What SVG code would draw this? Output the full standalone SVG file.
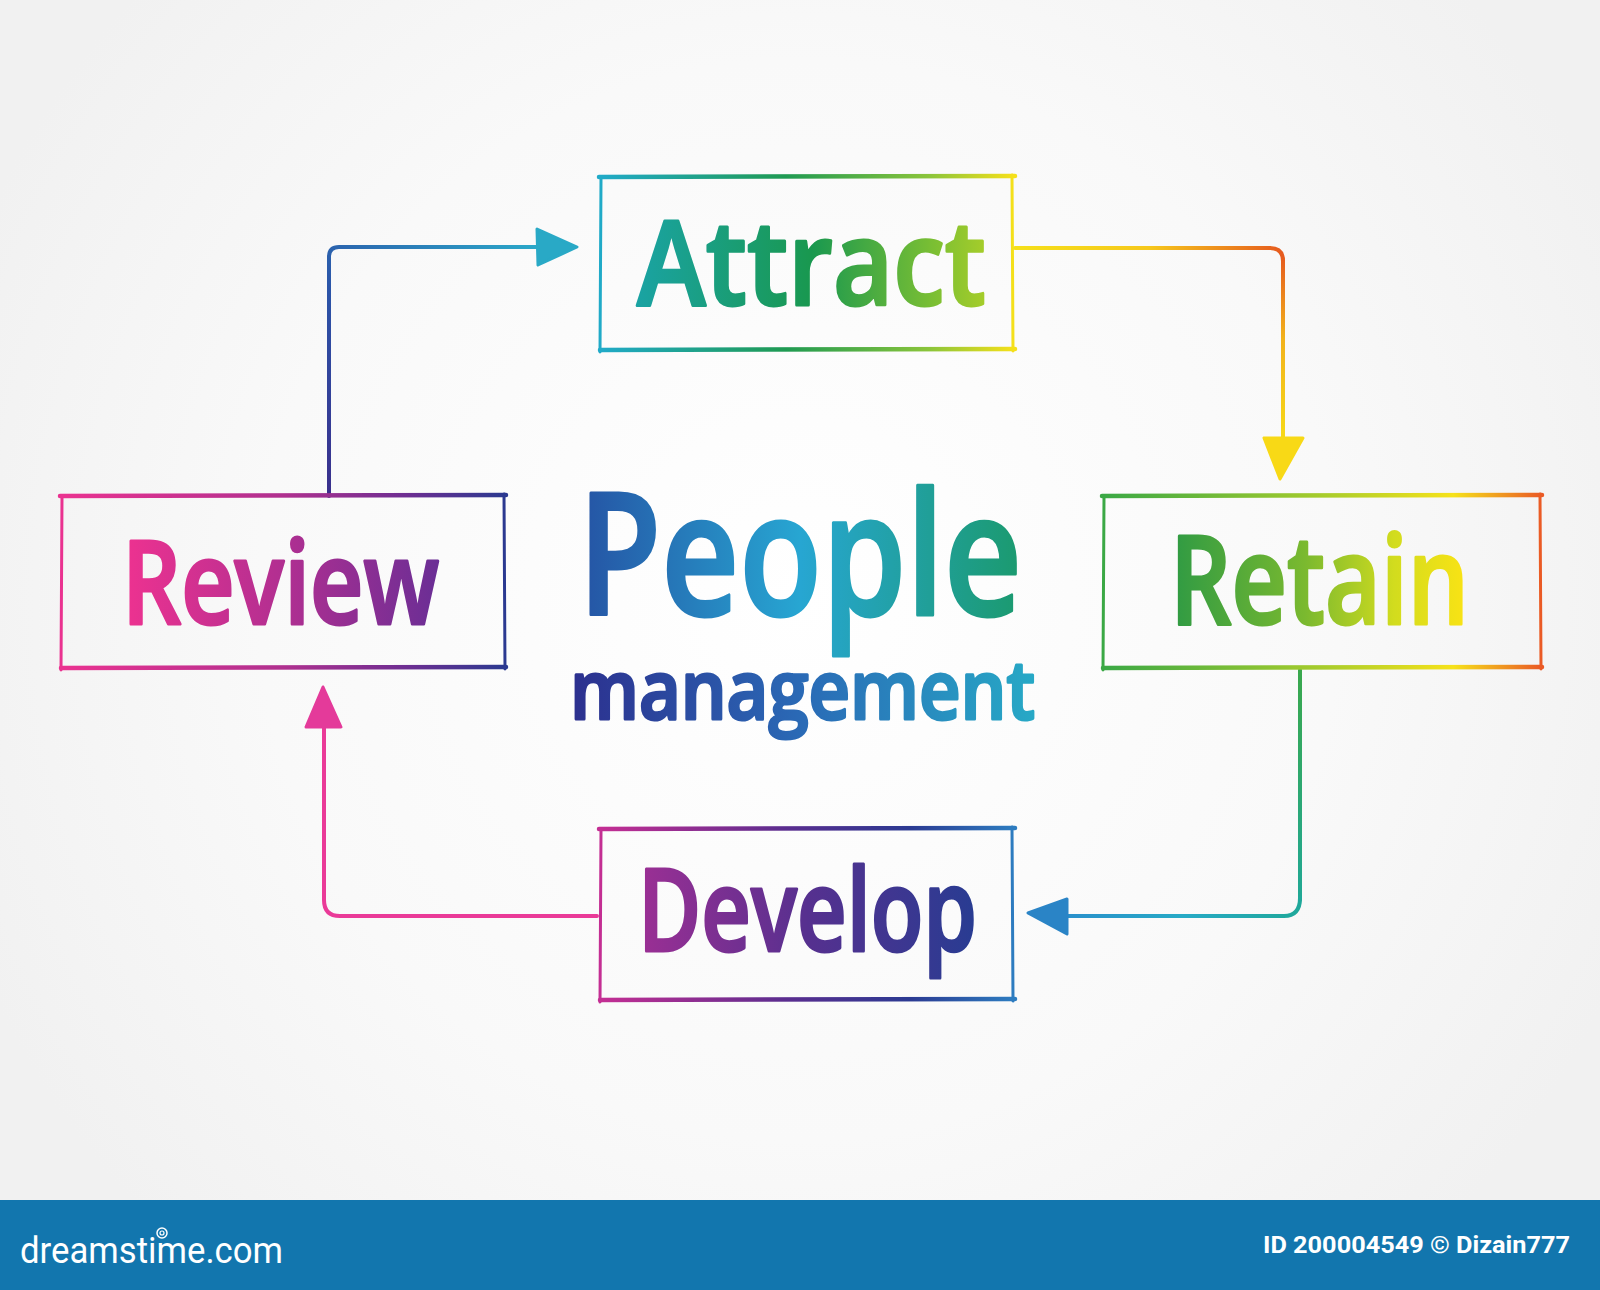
<svg xmlns="http://www.w3.org/2000/svg" width="1600" height="1290" viewBox="0 0 1600 1290">
<style>
  .edge{fill:none;stroke-linecap:round}
  .h{stroke-width:4.5}
  .v{stroke-width:3}
  .conn{fill:none;stroke-width:4;stroke-linecap:round;stroke-linejoin:round}
  .lbl{font-family:"Open Sans","Noto Sans","DejaVu Sans",sans-serif;font-weight:600;stroke-width:3;stroke-linejoin:round;paint-order:stroke}
  .arrow{stroke-width:3;stroke-linejoin:round}
  .foot{font-family:"Roboto","Liberation Sans",sans-serif;fill:#ffffff}
</style>
<defs>
  <radialGradient id="bg" cx="800" cy="600" r="900" gradientUnits="userSpaceOnUse">
    <stop offset="0" stop-color="#ffffff"/>
    <stop offset="0.6" stop-color="#f9f9f9"/>
    <stop offset="1" stop-color="#f1f1f1"/>
  </radialGradient>
  <linearGradient id="gAttractBox" x1="600" y1="0" x2="1013" y2="0" gradientUnits="userSpaceOnUse">
    <stop offset="0" stop-color="#20aac8"/><stop offset="0.45" stop-color="#1f9a52"/><stop offset="0.8" stop-color="#8cc53a"/><stop offset="1" stop-color="#f5e01a"/>
  </linearGradient>
  <linearGradient id="gReviewBox" x1="61" y1="0" x2="505" y2="0" gradientUnits="userSpaceOnUse">
    <stop offset="0" stop-color="#ea3290"/><stop offset="0.5" stop-color="#b0308f"/><stop offset="0.78" stop-color="#6d2e92"/><stop offset="1" stop-color="#2b3990"/>
  </linearGradient>
  <linearGradient id="gRetainBox" x1="1103" y1="0" x2="1541" y2="0" gradientUnits="userSpaceOnUse">
    <stop offset="0" stop-color="#3aa845"/><stop offset="0.5" stop-color="#a7cc2c"/><stop offset="0.8" stop-color="#f6e21a"/><stop offset="1" stop-color="#ea5a25"/>
  </linearGradient>
  <linearGradient id="gDevelopBox" x1="600" y1="0" x2="1013" y2="0" gradientUnits="userSpaceOnUse">
    <stop offset="0" stop-color="#c42e93"/><stop offset="0.45" stop-color="#5a2d8f"/><stop offset="0.75" stop-color="#2b3a92"/><stop offset="1" stop-color="#2d7cc0"/>
  </linearGradient>
  <linearGradient id="tAttract" x1="637" y1="0" x2="986" y2="0" gradientUnits="userSpaceOnUse">
    <stop offset="0" stop-color="#1aa3a3"/><stop offset="0.5" stop-color="#19984f"/><stop offset="0.85" stop-color="#7bbf33"/><stop offset="1" stop-color="#a6cd2a"/>
  </linearGradient>
  <linearGradient id="tReview" x1="122" y1="0" x2="439" y2="0" gradientUnits="userSpaceOnUse">
    <stop offset="0" stop-color="#ee3290"/><stop offset="0.5" stop-color="#b22f91"/><stop offset="1" stop-color="#6a2e95"/>
  </linearGradient>
  <linearGradient id="tRetain" x1="1170" y1="0" x2="1469" y2="0" gradientUnits="userSpaceOnUse">
    <stop offset="0" stop-color="#2e9a44"/><stop offset="0.45" stop-color="#7ab92f"/><stop offset="0.75" stop-color="#d2dc1e"/><stop offset="1" stop-color="#fbe314"/>
  </linearGradient>
  <linearGradient id="tDevelop" x1="638" y1="0" x2="977" y2="0" gradientUnits="userSpaceOnUse">
    <stop offset="0" stop-color="#9c2f94"/><stop offset="0.5" stop-color="#56308f"/><stop offset="1" stop-color="#283c92"/>
  </linearGradient>
  <linearGradient id="tPeople" x1="578" y1="0" x2="1022" y2="0" gradientUnits="userSpaceOnUse">
    <stop offset="0" stop-color="#2553a4"/><stop offset="0.5" stop-color="#27a6d2"/><stop offset="1" stop-color="#1b9a6e"/>
  </linearGradient>
  <linearGradient id="tMgmt" x1="570" y1="0" x2="1035" y2="0" gradientUnits="userSpaceOnUse">
    <stop offset="0" stop-color="#2c2f8e"/><stop offset="0.5" stop-color="#2a6ab6"/><stop offset="1" stop-color="#27a9c6"/>
  </linearGradient>
  <linearGradient id="c1" x1="329" y1="496" x2="560" y2="247" gradientUnits="userSpaceOnUse">
    <stop offset="0" stop-color="#3a2f8c"/><stop offset="0.45" stop-color="#2b54a8"/><stop offset="1" stop-color="#2bb0cc"/>
  </linearGradient>
  <linearGradient id="c2h" x1="1015" y1="0" x2="1283" y2="0" gradientUnits="userSpaceOnUse">
    <stop offset="0" stop-color="#f5e01a"/><stop offset="0.5" stop-color="#f6c81c"/><stop offset="1" stop-color="#e65a1e"/>
  </linearGradient>
  <linearGradient id="c2v" x1="0" y1="255" x2="0" y2="440" gradientUnits="userSpaceOnUse">
    <stop offset="0" stop-color="#e65a1e"/><stop offset="0.45" stop-color="#f2b21c"/><stop offset="1" stop-color="#f7da18"/>
  </linearGradient>
  <linearGradient id="c3v" x1="0" y1="670" x2="0" y2="916" gradientUnits="userSpaceOnUse">
    <stop offset="0" stop-color="#3aa84c"/><stop offset="1" stop-color="#1fa89a"/>
  </linearGradient>
  <linearGradient id="c3h" x1="1300" y1="0" x2="1066" y2="0" gradientUnits="userSpaceOnUse">
    <stop offset="0" stop-color="#1fa89a"/><stop offset="0.5" stop-color="#27aac6"/><stop offset="1" stop-color="#2a90cc"/>
  </linearGradient>
</defs>

<rect x="0" y="0" width="1600" height="1290" fill="url(#bg)"/>

<g id="connectors">
  <path class="conn" stroke="url(#c1)" d="M329,496 V257 Q329,247 339,247 H540"/>
  <polygon class="arrow" fill="#29a9c6" stroke="#29a9c6" points="537,229 577,247 538,265"/>
  <path class="conn" stroke="url(#c2h)" d="M1015,248 H1270 Q1283,248 1283,261"/>
  <path class="conn" stroke="url(#c2v)" d="M1283,259 V440"/>
  <polygon class="arrow" fill="#f8d916" stroke="#f8d916" points="1264,438 1303,438 1280,479"/>
  <path class="conn" stroke="url(#c3v)" d="M1300,670 V900"/>
  <path class="conn" stroke="url(#c3h)" d="M1300,898 Q1300,916 1284,916 H1066"/>
  <polygon class="arrow" fill="#2a84c6" stroke="#2a84c6" points="1067,899 1028,913 1067,934"/>
  <path class="conn" stroke="#ea3a98" d="M597,916 H340 Q324,916 324,900 V727"/>
  <polygon class="arrow" fill="#e43a9a" stroke="#e43a9a" points="306,727 323,687 341,727"/>
</g>

<g id="node-attract">
  <g class="edge" stroke="url(#gAttractBox)">
    <path class="v" d="M601,178 L600,352"/>
    <path class="h" d="M599,177 L1015,176"/>
    <path class="v" d="M1012,175 L1013,351"/>
    <path class="h" d="M600,350 L1015,349"/>
  </g>
  <text class="lbl" x="637" y="305" font-size="118" textLength="349" lengthAdjust="spacingAndGlyphs" fill="url(#tAttract)" stroke="url(#tAttract)">Attract</text>
</g>

<g id="node-review">
  <g class="edge" stroke="url(#gReviewBox)">
    <path class="v" d="M62,497 L61,670"/>
    <path class="h" d="M60,496 L506,495"/>
    <path class="v" d="M504,494 L505,669"/>
    <path class="h" d="M61,668 L506,667"/>
  </g>
  <text class="lbl" x="122" y="624" font-size="116" textLength="317" lengthAdjust="spacingAndGlyphs" fill="url(#tReview)" stroke="url(#tReview)">Review</text>
</g>

<g id="node-retain">
  <g class="edge" stroke="url(#gRetainBox)">
    <path class="v" d="M1104,497 L1103,670"/>
    <path class="h" d="M1102,496 L1542,495"/>
    <path class="v" d="M1540,494 L1541,669"/>
    <path class="h" d="M1103,668 L1542,667"/>
  </g>
  <text class="lbl" x="1170" y="624" font-size="124" textLength="299" lengthAdjust="spacingAndGlyphs" fill="url(#tRetain)" stroke="url(#tRetain)">Retain</text>
</g>

<g id="node-develop">
  <g class="edge" stroke="url(#gDevelopBox)">
    <path class="v" d="M601,830 L600,1002"/>
    <path class="h" d="M599,829 L1015,828"/>
    <path class="v" d="M1012,827 L1013,1001"/>
    <path class="h" d="M600,1000 L1015,999"/>
  </g>
  <text class="lbl" x="638" y="951" font-size="115" textLength="339" lengthAdjust="spacingAndGlyphs" fill="url(#tDevelop)" stroke="url(#tDevelop)">Develop</text>
</g>

<g id="node-center">
  <text class="lbl" x="578" y="615" font-size="170" textLength="444" lengthAdjust="spacingAndGlyphs" fill="url(#tPeople)" stroke="url(#tPeople)">People</text>
  <text class="lbl" x="570" y="719" font-size="82" textLength="465" lengthAdjust="spacingAndGlyphs" fill="url(#tMgmt)" stroke="url(#tMgmt)">management</text>
</g>

<g id="footer">
  <rect x="0" y="1200" width="1600" height="90" fill="#1276ae"/>
  <text class="foot" x="20" y="1263" font-size="36" font-weight="400" textLength="263" lengthAdjust="spacingAndGlyphs">dreamstime.com</text>
  <circle cx="162" cy="1233" r="5" fill="none" stroke="#ffffff" stroke-width="1.5"/>
  <circle cx="162" cy="1233" r="2" fill="none" stroke="#ffffff" stroke-width="1.2"/>
  <text class="foot" x="1263" y="1253" font-size="24" font-weight="700" textLength="307" lengthAdjust="spacingAndGlyphs">ID 200004549 © Dizain777</text>
</g>
</svg>
